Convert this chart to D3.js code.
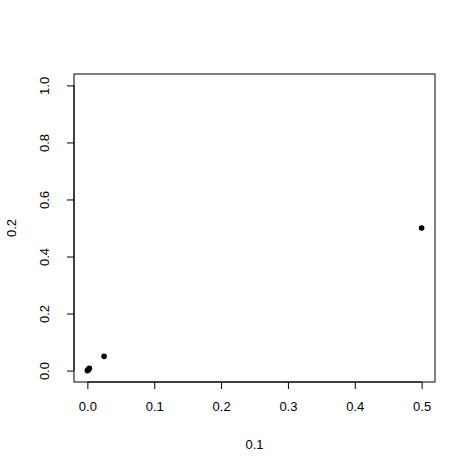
<!DOCTYPE html><html><head><script src="https://d3js.org/d3.v7.min.js"></script>
<style>body{margin:0;background:#fff}text{font-family:"Liberation Sans",Arial,sans-serif;font-size:13px}</style></head><body>
<script>
const xs=[0,0.001,0.002,0.003,0.025,0.5];
const ys=[0,0.002,0.005,0.008,0.05,0.5];
const xTicks=[0,0.1,0.2,0.3,0.4,0.5];
const yTicks=[0,0.2,0.4,0.6,0.8,1.0];
const L=74,R=435,T=74,B=382;
const svg=d3.select("body").append("svg").attr("width",474).attr("height",474);
const x=d3.scaleLinear().domain([-0.02,0.52]).range([L,R]);
const y=d3.scaleLinear().domain([-0.04,1.04]).range([B,T]);
svg.append("rect").attr("x",L).attr("y",T).attr("width",R-L).attr("height",B-T).attr("fill","none").attr("stroke","#000");
const gx=svg.append("g").attr("transform",`translate(0,${B})`).call(d3.axisBottom(x).tickValues(xTicks).tickFormat(d3.format(".1f")).tickSizeOuter(0).tickSize(7).tickPadding(13));
gx.select(".domain").attr("d",`M${x(0)},0H${x(0.5)}`);
const gy=svg.append("g").attr("transform",`translate(${L},0)`).call(d3.axisLeft(y).tickValues(yTicks).tickFormat(d3.format(".1f")).tickSizeOuter(0).tickSize(7));
gy.select(".domain").attr("d",`M0,${y(0)}V${y(1)}`);
gy.selectAll(".tick text").attr("transform","rotate(-90)").attr("x",0).attr("y",-25).attr("dy",0).attr("text-anchor","middle");
svg.selectAll("text").style("font-size","13px").style("font-family","Liberation Sans, Arial");
svg.selectAll("circle").data(xs).enter().append("circle").attr("cx",(d)=>x(d)).attr("cy",(d,i)=>y(ys[i])).attr("r",2.8).attr("fill","#000");
svg.append("text").attr("x",(L+R)/2).attr("y",449).attr("text-anchor","middle").style("font-size","13px").text("0.1");
svg.append("text").attr("transform",`translate(16,${(T+B)/2}) rotate(-90)`).attr("text-anchor","middle").style("font-size","13px").text("0.2");
</script></body></html>
